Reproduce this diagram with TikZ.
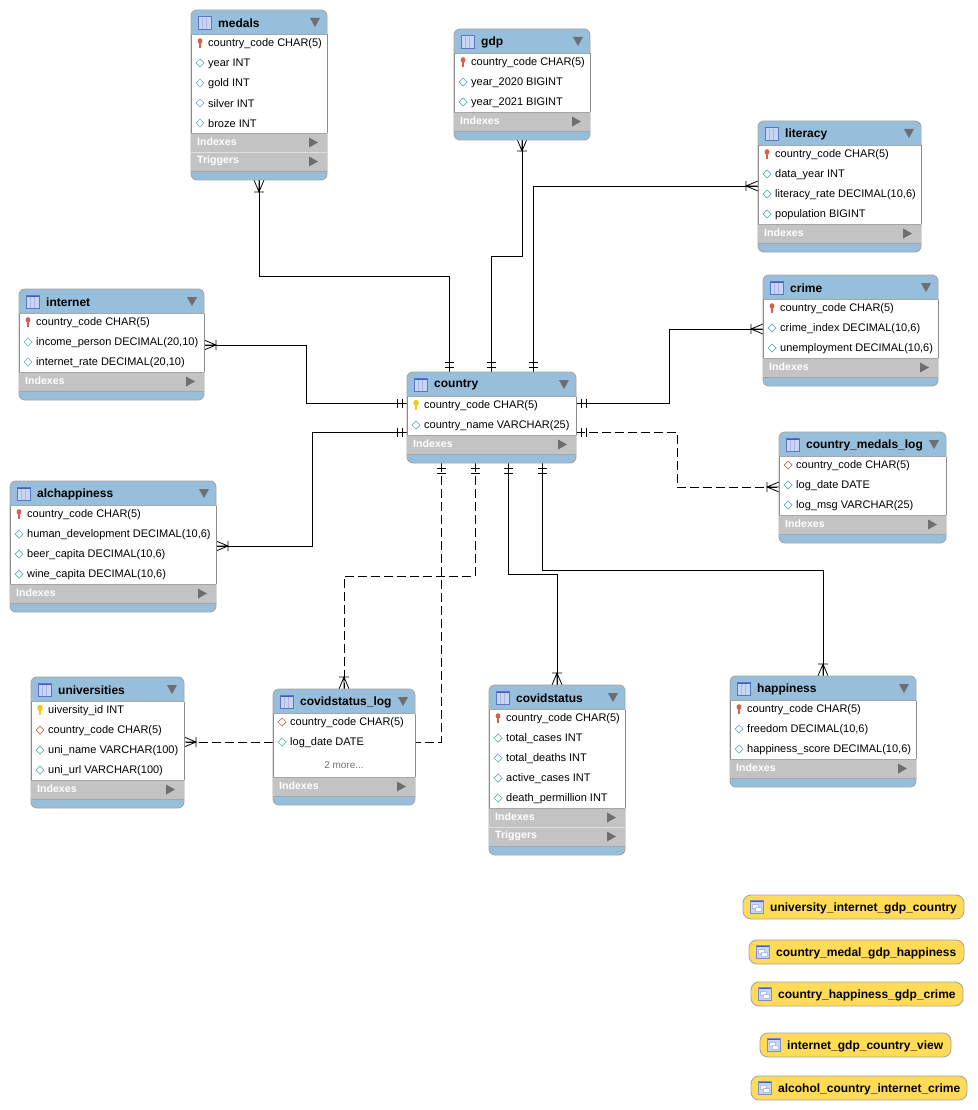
\documentclass[tikz,border=0pt]{standalone}
\usepackage{fontspec}
\setmainfont{Liberation Sans}
\definecolor{hdr}{HTML}{97BEDA}
\definecolor{secgray}{HTML}{C3C3C3}
\definecolor{edge}{HTML}{A6A6A6}
\definecolor{viewy}{HTML}{FFDB58}
\definecolor{tri}{HTML}{6E6E6E}
\definecolor{teal}{HTML}{5FB0B7}
\definecolor{rdd}{HTML}{C8685E}
\definecolor{keyr}{HTML}{D9604A}
\definecolor{keyy}{HTML}{F2C81E}
\definecolor{iconb}{HTML}{3F5CC0}
\definecolor{iconf}{HTML}{C9D6F2}
\tikzset{
  x=1pt,y=-1pt,
  tablebox/.style={draw=edge,line width=.9pt,fill=hdr,rounded corners=6pt,inner sep=0pt,outer sep=0pt},
  viewbox/.style={draw=edge,line width=.9pt,fill=viewy,rounded corners=8pt,inner sep=0pt,outer sep=0pt},
  titletext/.style={anchor=west,inner sep=0pt,font=\fontsize{12}{12}\selectfont\bfseries},
  rowtext/.style={anchor=west,inner sep=0pt,font=\fontsize{11}{12}\selectfont},
  moretext/.style={inner sep=0pt,text=black!55,font=\fontsize{10}{12}\selectfont},
  sectext/.style={anchor=west,inner sep=0pt,text=white,font=\fontsize{10.6}{12}\selectfont\bfseries},
  viewtext/.style={anchor=west,inner sep=0pt,font=\fontsize{12}{12}\selectfont\bfseries},
  link/.style={draw=black,line width=.8pt},
  dlink/.style={link,dash pattern=on 9pt off 4pt},
  crow/.pic={\draw[line width=.8pt] (0,-5)--(12,0)--(0,5) (12,-5)--(12,5) (0,0)--(12,0);},
  onebars/.pic={\draw[line width=.8pt] (5,-4.5)--(5,4.5) (10,-4.5)--(10,4.5);},
}
\newcommand{\tblicon}[2]{%
  \fill[iconf] (#1,#2) rectangle ++(13,13);
  \fill[iconb] (#1,#2) rectangle ++(13,1.5);
  \draw[iconb!85,line width=.6pt] (#1,#2) rectangle ++(13,13);
  \draw[iconb!45,line width=.5pt] (#1+4.3,#2+2)--++(0,11) (#1+8.6,#2+2)--++(0,11);
}
\newcommand{\vwicon}[2]{%
  \fill[iconf] (#1,#2) rectangle ++(13,13);
  \fill[iconb] (#1,#2) rectangle ++(13,2);
  \draw[iconb!70,line width=.5pt] (#1,#2) rectangle ++(13,13);
  \draw[iconb!40,line width=.5pt,fill=white] (#1+2,#2+4) rectangle ++(6,4);
  \draw[iconb!40,line width=.5pt,fill=white] (#1+5,#2+7) rectangle ++(6,4);
}
\newcommand{\rowicon}[3]{%
  \ifnum\pdfstrcmp{#1}{pk}=0
    \fill[keyr] (#2,#3-2) ellipse (2.4pt and 2.8pt);
    \draw[keyr,line width=1.3pt] (#2,#3-1)--(#2,#3+5);
  \else\ifnum\pdfstrcmp{#1}{yk}=0
    \fill[keyy] (#2,#3-2) ellipse (2.8pt and 3.2pt);
    \draw[keyy,line width=1.6pt] (#2,#3-1)--(#2,#3+5);
  \else\ifnum\pdfstrcmp{#1}{fk}=0
    \draw[teal,fill=white,line width=.7pt] (#2-4,#3)--(#2,#3-4)--(#2+4,#3)--(#2,#3+4)--cycle;
  \else\ifnum\pdfstrcmp{#1}{rd}=0
    \draw[rdd,fill=white,line width=.7pt] (#2-4,#3)--(#2,#3-4)--(#2+4,#3)--(#2,#3+4)--cycle;
  \fi\fi\fi\fi
}
% id x0 y0 x1 title nrows extra rows nsections
\newcommand{\ertable}[9]{%
  \pgfmathsetmacro{\bodyend}{#3+23+20*#6+#7}
  \pgfmathsetmacro{\boxend}{\bodyend+19*#9+9}
  \pgfmathsetmacro{\secend}{\bodyend+19*#9}
  \pgfmathsetmacro{\mx}{(#2+#4)/2}
  \pgfmathsetmacro{\my}{(#3+\boxend)/2}
  \pgfmathsetmacro{\bw}{#4-#2}
  \pgfmathsetmacro{\bh}{\boxend-#3}
  \node[tablebox,minimum width=\bw pt,minimum height=\bh pt] (#1) at (\mx,\my) {};
  \fill[white] (#2,#3+24.5) rectangle (#4,\bodyend);
  \fill[secgray] (#2,\bodyend) rectangle (#4,\secend);
  \draw[edge,line width=.9pt] (#2,#3+24.5)--(#4,#3+24.5);
  \draw[black!45,line width=.6pt] (#2,#3+24.5)--(#2,\bodyend) (#4,#3+24.5)--(#4,\bodyend);
  \draw[edge,line width=.9pt] (#2,\bodyend)--(#4,\bodyend);
  \draw[edge,line width=.8pt] (#2,\secend)--(#4,\secend);
  \tblicon{#2+7}{#3+6}
  \node[titletext] (#1-title) at (#2+27,#3+13) {#5};
  \fill[tri] (#4-17,#3+8)--(#4-7,#3+8)--(#4-12,#3+17)--cycle;
  \foreach \k/\t [count=\i] in {#8}{
    \pgfmathsetmacro{\ry}{#3+23+20*\i-10+0}
    \ifnum\pdfstrcmp{\k}{mo}=0
      \node[moretext] (#1-r\i) at (\mx,\ry+3) {\t};
    \else
      \rowicon{\k}{#2+9}{\ry}
      \node[rowtext] (#1-r\i) at (#2+17,\ry+1) {\t};
    \fi
  }
  \foreach \s/\st [count=\j] in {Indexes/I,Triggers/T}{
    \ifnum\j>#9\else
      \pgfmathsetmacro{\sy}{\bodyend+19*(\j-1)}
      \node[sectext] (#1-s\j) at (#2+6,\sy+8.5) {\s};
      \fill[tri] (#4-18,\sy+4.5)--(#4-9,\sy+9.5)--(#4-18,\sy+14.5)--cycle;
      \ifnum\j<#9 \draw[white!88!black,line width=.7pt] (#2,\sy+19)--(#4,\sy+19); \fi
    \fi
  }
}
\newcommand{\erview}[5]{% id x0 y0 x1 text
  \pgfmathsetmacro{\mx}{(#2+#4)/2}
  \pgfmathsetmacro{\bw}{#4-#2}
  \node[viewbox,minimum width=\bw pt,minimum height=24pt] (#1) at (\mx,#3+12) {};
  \vwicon{#2+7}{#3+5}
  \node[viewtext] (#1-t) at (#2+27,#3+13) {#5};
}
\begin{document}
\begin{tikzpicture}
\useasboundingbox (0,0) rectangle (977,1110);
\fill[white] (0,0) rectangle (977,1110);

% connectors first
\coordinate (cN1) at (449,372);
\coordinate (cN2) at (491,372);
\coordinate (cN3) at (533,372);
\coordinate (cW1) at (407,403);
\coordinate (cW2) at (407,432);
\coordinate (cE1) at (576,403);
\coordinate (cE2) at (576,432);
\coordinate (cS1) at (441,463);
\coordinate (cS2) at (475,463);
\coordinate (cS3) at (508,463);
\coordinate (cS4) at (542,463);
\coordinate (medalsS) at (259,180);
\coordinate (gdpS) at (522,139);
\coordinate (litW) at (758,186);
\coordinate (intE) at (204,345);
\coordinate (crimeW) at (763,329);
\coordinate (alcE) at (216,546);
\coordinate (cmlW) at (779,487);
\coordinate (logN) at (344,689);
\coordinate (logE) at (415,742);
\coordinate (logW) at (273,742);
\coordinate (uniE) at (184,742);
\coordinate (covN) at (557,685);
\coordinate (hapN) at (823,676);

\draw[link] (medalsS)--(259,276)--(449,276)--(cN1);
\draw[link] (gdpS)--(522,256)--(491,256)--(cN2);
\draw[link] (litW)--(533,186)--(cN3);
\draw[link] (intE)--(306,345)--(306,403)--(cW1);
\draw[link] (crimeW)--(669,329)--(669,403)--(cE1);
\draw[link] (alcE)--(312,546)--(312,432)--(cW2);
\draw[dlink] (cE2)--(677,432)--(677,487)--(cmlW);
\draw[dlink] (cS2)--(475,576)--(344,576)--(logN);
\draw[dlink] (cS1)--(441,742)--(logE);
\draw[dlink] (logW)--(uniE);
\draw[link] (cS3)--(508,574)--(557,574)--(covN);
\draw[link] (cS4)--(542,570)--(823,570)--(hapN);

\path (cN1) pic[rotate=90]{onebars} (cN2) pic[rotate=90]{onebars} (cN3) pic[rotate=90]{onebars};
\path (cW1) pic[rotate=180]{onebars} (cW2) pic[rotate=180]{onebars};
\path (cE1) pic{onebars} (cE2) pic{onebars};
\path (cS1) pic[rotate=270]{onebars} (cS2) pic[rotate=270]{onebars} (cS3) pic[rotate=270]{onebars} (cS4) pic[rotate=270]{onebars};
\path (medalsS) pic[rotate=270]{crow} (gdpS) pic[rotate=270]{crow};
\path (litW) pic[rotate=180]{crow} (crimeW) pic[rotate=180]{crow} (cmlW) pic[rotate=180]{crow};
\path (intE) pic{crow} (alcE) pic{crow} (uniE) pic{crow};
\path (logN) pic[rotate=90]{crow} (covN) pic[rotate=90]{crow} (hapN) pic[rotate=90]{crow};

\ertable{medals}{191}{10}{327}{medals}{5}{0}{pk/country\_code CHAR(5),fk/year INT,fk/gold INT,fk/silver INT,fk/broze INT}{2}
\ertable{gdp}{454}{29}{590}{gdp}{3}{0}{pk/country\_code CHAR(5),fk/year\_2020 BIGINT,fk/year\_2021 BIGINT}{1}
\ertable{literacy}{758}{121}{921}{literacy}{4}{0}{pk/country\_code CHAR(5),fk/data\_year INT,fk/{literacy\_rate DECIMAL(10,6)},fk/population BIGINT}{1}
\ertable{internet}{19}{289}{204}{internet}{3}{0}{pk/country\_code CHAR(5),fk/{income\_person DECIMAL(20,10)},fk/{internet\_rate DECIMAL(20,10)}}{1}
\ertable{crime}{763}{275}{938}{crime}{3}{0}{pk/country\_code CHAR(5),fk/{crime\_index DECIMAL(10,6)},fk/{unemployment DECIMAL(10,6)}}{1}
\ertable{country}{407}{372}{576}{country}{2}{0}{yk/country\_code CHAR(5),fk/country\_name VARCHAR(25)}{1}
\ertable{cml}{779}{432}{946}{country\_medals\_log}{3}{0}{rd/country\_code CHAR(5),fk/log\_date DATE,fk/log\_msg VARCHAR(25)}{1}
\ertable{alc}{10}{481}{216}{alchappiness}{4}{0}{pk/country\_code CHAR(5),fk/{human\_development DECIMAL(10,6)},fk/{beer\_capita DECIMAL(10,6)},fk/{wine\_capita DECIMAL(10,6)}}{1}
\ertable{uni}{31}{677}{184}{universities}{4}{0}{yk/uiversity\_id INT,rd/country\_code CHAR(5),fk/uni\_name VARCHAR(100),fk/uni\_url VARCHAR(100)}{1}
\ertable{log}{273}{689}{415}{covidstatus\_log}{3}{5}{rd/country\_code CHAR(5),fk/log\_date DATE,mo/{2 more...}}{1}
\ertable{cov}{489}{685}{625}{covidstatus}{5}{0}{pk/country\_code CHAR(5),fk/total\_cases INT,fk/total\_deaths INT,fk/active\_cases INT,fk/death\_permillion INT}{2}
\ertable{hap}{730}{676}{916}{happiness}{3}{0}{pk/country\_code CHAR(5),fk/{freedom DECIMAL(10,6)},fk/{happiness\_score DECIMAL(10,6)}}{1}

\erview{v1}{743}{895}{964}{university\_internet\_gdp\_country}
\erview{v2}{749}{940}{964}{country\_medal\_gdp\_happiness}
\erview{v3}{751}{982}{963}{country\_happiness\_gdp\_crime}
\erview{v4}{760}{1033}{951}{internet\_gdp\_country\_view}
\erview{v5}{751}{1076}{967}{alcohol\_country\_internet\_crime}
\end{tikzpicture}
\end{document}
